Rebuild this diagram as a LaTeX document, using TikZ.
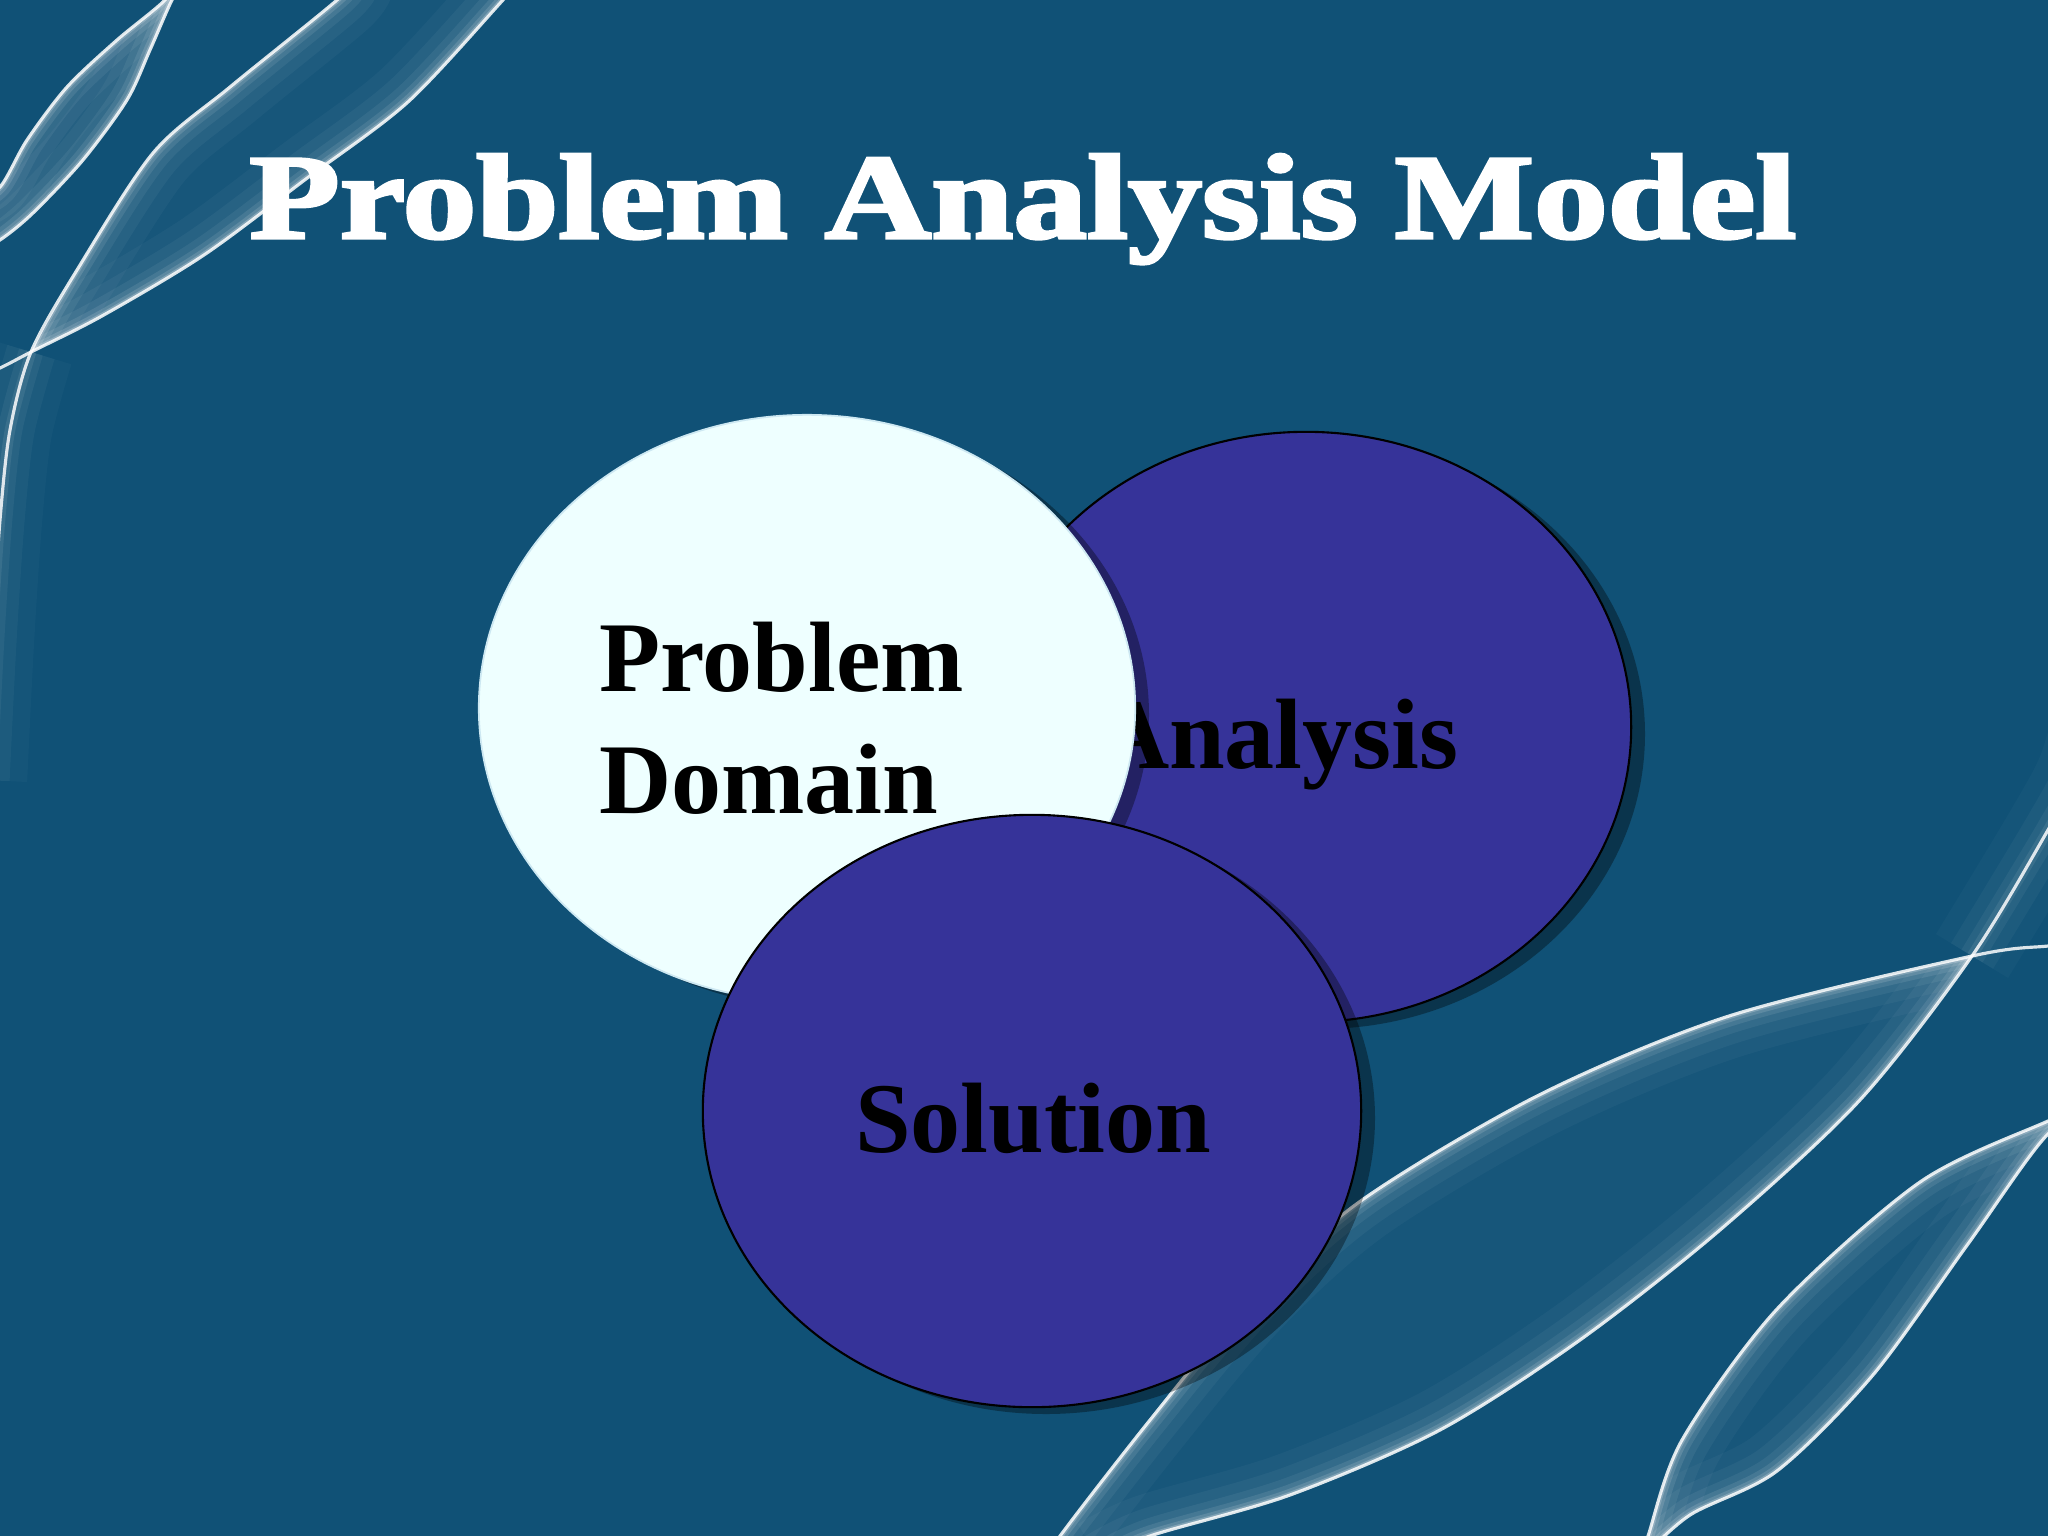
\documentclass[tikz,border=0pt]{standalone}
\usepackage{fontspec}
\setmainfont{Liberation Serif}
\newfontfamily\titlefont{Liberation Serif}[BoldFeatures={FakeBold=2.5}]
\usetikzlibrary{shapes.geometric,calc}

\definecolor{bgblue}{RGB}{16,81,118}
\definecolor{indig}{RGB}{54,51,153}
\definecolor{paleC}{RGB}{238,255,255}
\definecolor{paleEdge}{RGB}{205,232,242}

\tikzset{
  disc/.style={ellipse, inner sep=0pt, outer sep=0pt},
  darkdisc/.style={disc, fill=indig, draw=black, line width=0.6pt},
  lightdisc/.style={disc, fill=paleC, draw=paleEdge, line width=0.5pt},
  dropsh/.style={fill=black, fill opacity=0.35},
  txt/.style={font=\fontsize{28.45pt}{34.7pt}\selectfont\bfseries, text=black, inner sep=0pt, outer sep=0pt},
  core/.style={white, opacity=0.85, line width=0.9pt},
  lensfill/.style={fill=white, fill opacity=0.03},
}

\newcommand\glowcurve[1]{%
  \foreach \w/\o in {24/0.03,16/0.045,10/0.06,6/0.09,3.5/0.13,1.8/0.22}{%
    \draw[white, opacity=\o, line width=\w pt] plot[smooth] coordinates {#1};}}
\newcommand\softcurve[1]{%
  \foreach \w/\o in {24/0.025,14/0.035,7/0.05,3/0.08}{%
    \draw[white, opacity=\o, line width=\w pt] plot[smooth] coordinates {#1};}}

\begin{document}
\begin{tikzpicture}[x=0.01cm,y=-0.01cm]
\useasboundingbox (0,0) rectangle (2048,1536);
\fill[bgblue] (0,0) rectangle (2048,1536);

\begin{scope}
\clip (0,0) rectangle (2048,1536);

% ---------- lens A (top left, small)
\begin{scope}
\clip plot[smooth] coordinates {(190,-30) (172,0) (150,50) (127,100) (83,160) (33,213) (0,240) (-30,255)}
   -- plot[smooth] coordinates {(-30,205) (0,187) (27,140) (67,87) (117,40) (165,0) (185,-30)} -- cycle;
\fill[lensfill] (-50,-50) rectangle (300,300);
\glowcurve{(190,-30) (172,0) (150,50) (127,100) (83,160) (33,213) (0,240) (-30,255)}
\glowcurve{(-30,205) (0,187) (27,140) (67,87) (117,40) (165,0) (185,-30)}
\end{scope}
\draw[core] plot[smooth] coordinates {(190,-30) (172,0) (150,50) (127,100) (83,160) (33,213) (0,240) (-30,255)};
\draw[core] plot[smooth] coordinates {(-30,205) (0,187) (27,140) (67,87) (117,40) (165,0) (185,-30)};

% ---------- lens B (top left, large)
\begin{scope}
\clip plot[smooth] coordinates {(352,-20) (337,0) (230,87) (153,153) (77,270) (31,352)}
   -- plot[smooth] coordinates {(31,352) (102,316) (204,255) (306,179) (408,102) (503,0) (525,-25)} -- cycle;
\fill[lensfill] (-50,-50) rectangle (600,450);
\glowcurve{(352,-20) (337,0) (230,87) (153,153) (77,270) (31,352) (8,430) (-5,500)}
\glowcurve{(525,-25) (503,0) (408,102) (306,179) (204,255) (102,316) (31,352) (0,368) (-30,380)}
\end{scope}
\draw[core] plot[smooth] coordinates {(352,-20) (337,0) (230,87) (153,153) (77,270) (31,352) (10,430) (0,520) (-8,640)};
\draw[core] plot[smooth] coordinates {(525,-25) (503,0) (408,102) (306,179) (204,255) (102,316) (31,352) (0,368) (-30,380)};
\softcurve{(31,352) (10,430) (0,520) (-8,640) (-15,780)}

% ---------- lens L (bottom right, large)
\begin{scope}
\clip plot[smooth] coordinates {(1040,1570) (1060,1536) (1150,1420) (1250,1300) (1362,1200) (1539,1095) (1729,1016) (1972,956)}
   -- plot[smooth] coordinates {(1972,956) (1860,1100) (1720,1230) (1580,1340) (1440,1430) (1290,1495) (1150,1536) (1100,1560)} -- cycle;
\fill[lensfill] (1000,900) rectangle (2048,1536);
\glowcurve{(1040,1570) (1060,1536) (1150,1420) (1250,1300) (1362,1200) (1539,1095) (1729,1016) (1972,956) (2048,946) (2100,942)}
\glowcurve{(2080,770) (2048,830) (1972,956) (1860,1100) (1720,1230) (1580,1340) (1440,1430) (1290,1495) (1150,1536) (1100,1560)}
\end{scope}
\draw[core] plot[smooth] coordinates {(1040,1570) (1060,1536) (1150,1420) (1250,1300) (1362,1200) (1539,1095) (1729,1016) (1972,956) (2048,946) (2100,942)};
\draw[core] plot[smooth] coordinates {(2080,770) (2048,830) (1972,956) (1860,1100) (1720,1230) (1580,1340) (1440,1430) (1290,1495) (1150,1536) (1100,1560)};
\softcurve{(2100,700) (2080,770) (2048,830) (1972,956)}

% ---------- lens S (bottom right, small)
\begin{scope}
\clip plot[smooth] coordinates {(2100,1100) (2048,1121) (1920,1182) (1777,1309) (1682,1440) (1648,1536) (1640,1560)}
   -- plot[smooth] coordinates {(1640,1560) (1690,1515) (1777,1471) (1873,1375) (1968,1244) (2048,1134) (2100,1110)} -- cycle;
\fill[lensfill] (1600,1080) rectangle (2048,1536);
\glowcurve{(2100,1100) (2048,1121) (1920,1182) (1777,1309) (1682,1440) (1648,1536) (1640,1560)}
\glowcurve{(2100,1110) (2048,1134) (1968,1244) (1873,1375) (1777,1471) (1690,1515) (1640,1560)}
\end{scope}
\draw[core] plot[smooth] coordinates {(2100,1100) (2048,1121) (1920,1182) (1777,1309) (1682,1440) (1648,1536) (1640,1560)};
\draw[core] plot[smooth] coordinates {(2100,1110) (2048,1134) (1968,1244) (1873,1375) (1777,1471) (1690,1515) (1640,1560)};
\end{scope}

% ---------- Analysis
\coordinate (anc) at (1306,727);
\fill[dropsh] ([shift={(14,7)}]anc) ellipse [x radius=325, y radius=295];
\node[darkdisc, minimum width=6.5cm, minimum height=5.9cm] (an) at (anc) {};
\node[txt, anchor=base west] (ant) at (1097,768) {Analysis};

% ---------- Problem Domain
\coordinate (pdc) at (807,708);
\fill[dropsh] ([shift={(14,7)}]pdc) ellipse [x radius=328, y radius=293];
\node[lightdisc, minimum width=6.56cm, minimum height=5.86cm] (pd) at (pdc) {};
\node[txt, anchor=base west] (pdt1) at (599,691) {Problem};
\node[txt, anchor=base west] (pdt2) at (599,813) {Domain};

% ---------- Solution
\coordinate (soc) at (1032,1111);
\fill[dropsh] ([shift={(14,7)}]soc) ellipse [x radius=329, y radius=296];
\node[darkdisc, minimum width=6.58cm, minimum height=5.92cm] (so) at (soc) {};
\node[txt, anchor=base west] (sot) at (855,1152) {Solution};

% ---------- title
\node[font=\titlefont\bfseries\fontsize{34.4pt}{40pt}\selectfont, text=white, anchor=base, inner sep=0pt] (title) at (1023,238) {\scalebox{1.22}[1]{Problem Analysis Model}};
\end{tikzpicture}
\end{document}
